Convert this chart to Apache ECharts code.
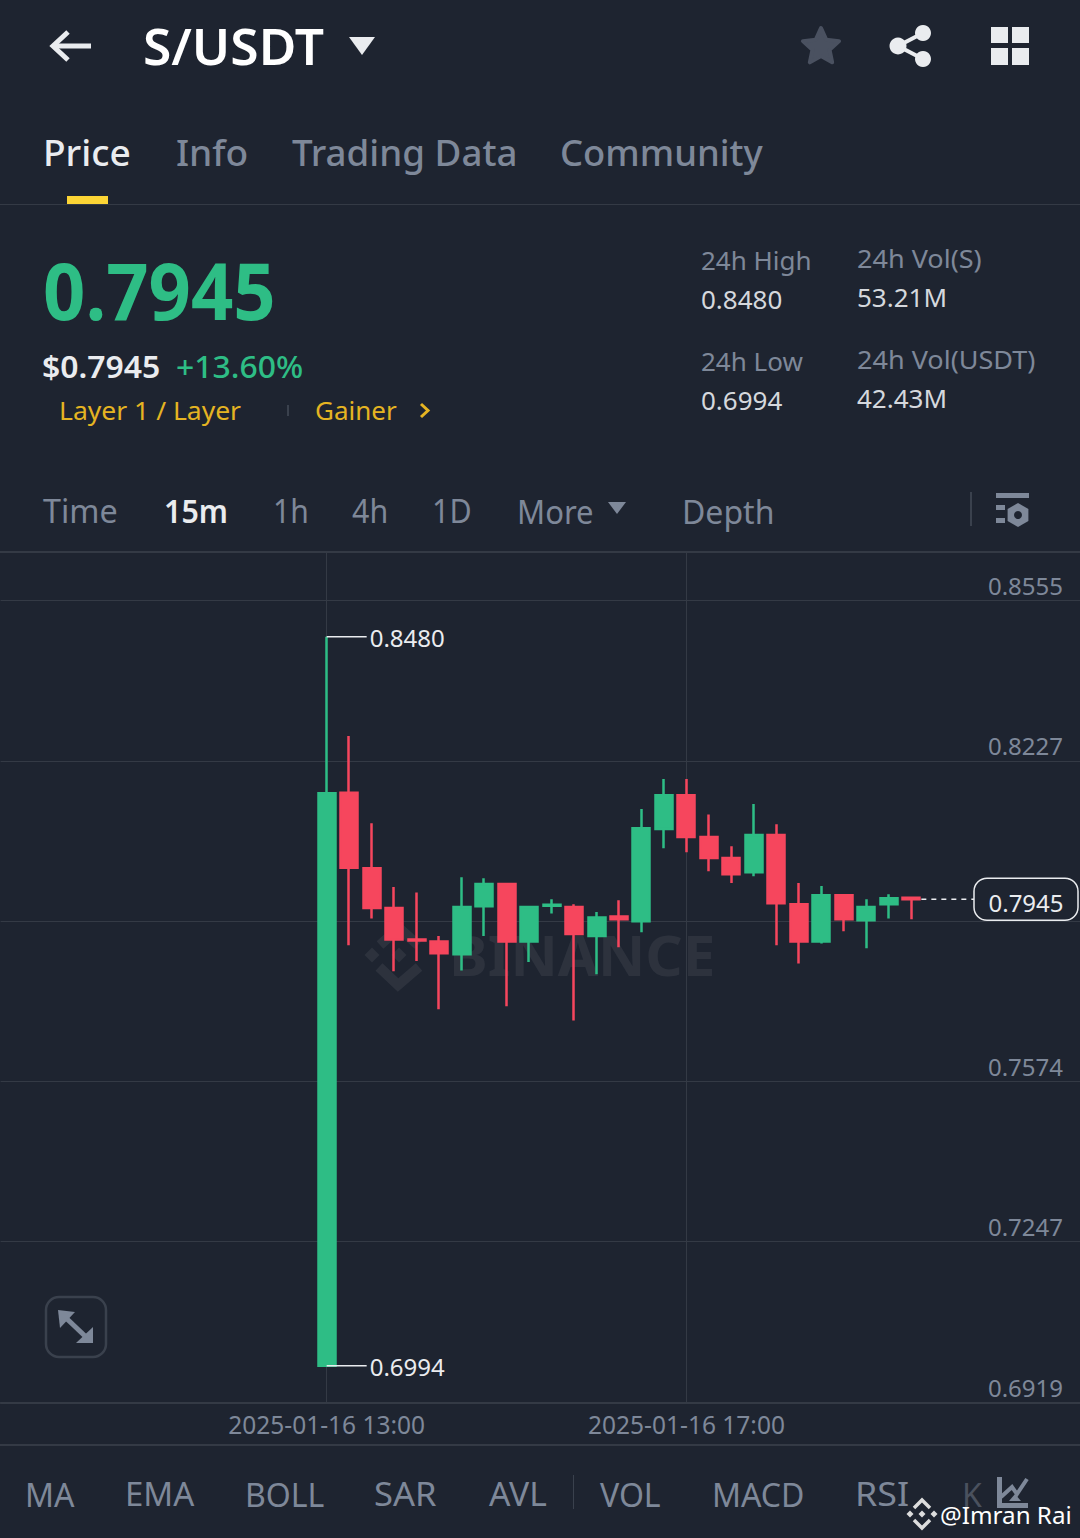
<!DOCTYPE html>
<html><head><meta charset="utf-8">
<style>html,body{margin:0;padding:0;background:#1e2430}#c{width:1080px;height:1538px}</style>
<script src="https://cdn.jsdelivr.net/npm/echarts@6/dist/echarts.min.js"></script>
</head><body><div id="c"></div>
<script>
const opens  = [0.6994,0.8162,0.8008,0.7927,0.7863,0.7859,0.7833,0.7931,0.7976,0.7859,0.7932,0.7929,0.7870,0.7910,0.7900,0.8088,0.8157,0.8072,0.8029,0.8000,0.8076,0.7935,0.7859,0.7953,0.7902,0.7935,0.7948];
const closes = [0.8161,0.8009,0.7927,0.7863,0.7861,0.7835,0.7929,0.7976,0.7859,0.7929,0.7934,0.7874,0.7908,0.7904,0.8090,0.8157,0.8072,0.8029,0.7996,0.8076,0.7937,0.7859,0.7953,0.7904,0.7929,0.7947,0.7945];
const lows   = [0.6994,0.7851,0.7906,0.7798,0.7819,0.7721,0.7800,0.7870,0.7727,0.7817,0.7916,0.7698,0.7792,0.7847,0.7878,0.8049,0.8041,0.8002,0.7978,0.7992,0.7851,0.7814,0.7855,0.7880,0.7845,0.7906,0.7904];
const highs  = [0.8480,0.8278,0.8100,0.7970,0.7959,0.7870,0.7990,0.7988,0.7977,0.7930,0.7945,0.7935,0.7919,0.7943,0.8129,0.8190,0.8190,0.8118,0.8053,0.8139,0.8098,0.7978,0.7972,0.7955,0.7945,0.7955,0.7948];
const firstCandleSlot = 14;
const slotCount = 48;
const yTicks = [0.6919,0.7247,0.7574,0.7900,0.8227,0.8555];
const yLabels = [0.6919,0.7247,0.7574,0.8227,0.8555];
const xTickLabels = ['2025-01-16 13:00','2025-01-16 17:00'];
const extremes = [[14,0.8480],[14,0.6994]];
const lastPrice = [[40,0.7945]];

const BG='#1e2430', GREEN='#2ebd85', RED='#f6465d', GRAY='#7e8899', WHITE='#eaecef', LINE='#343a45', YEL='#e5b422';
const pad=n=>String(n).padStart(2,'0');
const categories=[];
for(let i=0;i<slotCount;i++){const m=9*60+30+i*15;categories.push('2025-01-16 '+pad(Math.floor(m/60))+':'+pad(m%60));}
const candleData=categories.map((_,i)=>{const k=i-firstCandleSlot;return k>=0&&k<opens.length?[opens[k],closes[k],lows[k],highs[k]]:'-';});

const FONT='"Noto Sans"';
// [text, x, y, size, color, weight, scaleX]
const texts=[
 ['S/USDT',144,47,50,'#ffffff',600,1.03],
 ['Price',44,153,36,WHITE,500,1.03],['Info',177,153,36,GRAY,500,1.03],['Trading Data',293,153,36,GRAY,500,1.02],['Community',561,153,36,GRAY,500,1.01],
 ['0.7945',44,291,78,GREEN,700,0.95],
 ['$0.7945',43,367,31,WHITE,600,1.03],['+13.60%',177,367,31,GREEN,500,1.03],
 ['Layer 1 / Layer',60,411,26,YEL,400,1.02],['Gainer',316,411,26,YEL,400,1],
 ['24h High',702,261,26,GRAY,400,1],['0.8480',702,300,26,'#d5d8dd',400,1],['24h Low',702,362,26,GRAY,400,1],['0.6994',702,401,26,'#d5d8dd',400,1],
 ['24h Vol(S)',858,259,26,GRAY,400,1.04],['53.21M',858,298,26,'#d5d8dd',400,1],['24h Vol(USDT)',858,360,26,GRAY,400,1.04],['42.43M',858,399,26,'#d5d8dd',400,1],
 ['Time',44,512,32,GRAY,400,1.01],['15m',165,512,32,WHITE,600,0.95],['1h',274,512,32,GRAY,400,0.94],['4h',353,512,32,GRAY,400,0.95],['1D',433,512,32,GRAY,400,0.95],['More',518,512,32,GRAY,400,0.97],['Depth',683,512,32,GRAY,400,1],
 ['MA',26,1495,32,GRAY,400,1],['EMA',126,1495,32,GRAY,400,1.03],['BOLL',246,1495,32,GRAY,400,1],['SAR',375,1495,32,GRAY,400,1.08],['AVL',490,1495,32,GRAY,400,1.05],['VOL',601,1495,32,GRAY,400,1],['MACD',713,1495,32,GRAY,400,1],['RSI',856,1495,32,GRAY,400,1.12],['K',963,1495,32,'#4a515e',400,1],
 ['@Imran Rai',941,1515,24.2,'#ffffff',400,1],
];
const textEls=texts.map(([t,x,y,s,c,w,sx])=>({type:'text',x:x-1,y:y-1,scaleX:sx,z:5,silent:true,style:{text:t,fontSize:s,fontWeight:w,fontFamily:FONT,fill:c,textVerticalAlign:'middle'}}));

const rect=(x,y,w,h,c,r)=>({type:'rect',z:5,silent:true,shape:{x,y,width:w,height:h,r:r||0},style:{fill:c}});
const poly=(pts,c,z)=>({type:'polygon',z:z==null?5:z,silent:true,shape:{points:pts},style:{fill:c}});
const pl=(pts,c,w,z)=>({type:'polyline',z:z==null?5:z,silent:true,shape:{points:pts},style:{stroke:c,lineWidth:w,fill:null,lineJoin:'miter'}});
const circ=(x,y,r,c)=>({type:'circle',z:5,silent:true,shape:{cx:x,cy:y,r},style:{fill:c}});
const dia=(x,y,r,c,z)=>poly([[x-r,y],[x,y-r],[x+r,y],[x,y+r]],c,z);
const WM='rgba(255,255,255,0.065)';
const star=[];for(let i=0;i<10;i++){const a=-Math.PI/2+i*Math.PI/5,r=i%2?9:19;star.push([821+r*Math.cos(a),47+r*Math.sin(a)]);}
const hex=[];for(let i=0;i<6;i++){const a=-Math.PI/2+i*Math.PI/3;hex.push([1018+12*Math.cos(a),515+12*Math.sin(a)]);}
const icons=[
 pl([[91,46],[54,46]],WHITE,5),pl([[68,32],[53,46],[68,60]],WHITE,5),
 poly([[349,37],[375,37],[362,55]],WHITE),
 {type:'polygon',z:5,silent:true,shape:{points:star},style:{fill:'#4a5160',stroke:'#4a5160',lineWidth:4,lineJoin:'round'}},
 pl([[923,33],[898,46],[923,59]],WHITE,4),circ(923,33,8,WHITE),circ(923,59,8,WHITE),circ(898,46,8.5,WHITE),
 rect(991,27,17,16,WHITE),rect(1012,27,17,16,WHITE),rect(991,48,17,17,WHITE),rect(1012,48,17,17,WHITE),
 rect(67,196,41,8,'#fcd535'),
 rect(0,204,1080,1,LINE),
 rect(287,405,2,11,'#3a414d'),
 pl([[421,404],[428,410.5],[421,417]],YEL,3),
 poly([[608,502],[626,502],[617,514]],GRAY),
 rect(970,492,2,34,'#3a414d'),
 rect(996,493,33,5,GRAY),rect(996,505,9,5,GRAY),rect(996,518,9,5,GRAY),
 poly(hex,GRAY),circ(1018,515,4,BG),
 rect(0,551,1080,2,LINE),rect(0,1444,1080,2,LINE),
 {type:'rect',z:5,silent:true,shape:{x:46,y:1297,width:60,height:60,r:13},style:{fill:BG,stroke:'#3a414d',lineWidth:2.5}},
 pl([[66,1318],[85,1336]],GRAY,5),poly([[58,1310],[75,1312],[60,1328]],GRAY),poly([[93,1343],[76,1343],[93,1327]],GRAY),
 rect(573,1475,1,34,'#3a414d'),
 rect(997,1477,5,31,GRAY),rect(997,1503,31,5,GRAY),pl([[1001,1497],[1012,1487],[1017,1494],[1027,1479]],GRAY,4),poly([[1009,1501],[1021,1501],[1015,1494]],GRAY),
 dia(910,1514,3.5,'#dddddd'),dia(934,1514,3.5,'#dddddd'),dia(922,1514,3.5,'#dddddd'),
 pl([[914,1508],[922,1500],[930,1508]],'#dddddd',3.5),pl([[914,1520],[922,1528],[930,1520]],'#dddddd',3.5),
 // faint exchange mark behind the candles
 dia(372,955,7.5,WM,0),pl([[380,945],[399,928],[418,945]],WM,10,0),pl([[379,967],[398,985],[419,967]],WM,10,0),dia(399,955,7.5,WM,0),
 {type:'text',x:449,y:954,z:0,silent:true,scaleX:1.04,style:{text:'BINANCE',fontSize:56,fontWeight:700,fontFamily:FONT,fill:WM,textVerticalAlign:'middle'}},
];

const chart=echarts.init(document.getElementById('c'),null,{renderer:'svg',width:1080,height:1538});
chart.setOption({
 animation:false,backgroundColor:BG,
 textStyle:{fontFamily:FONT},
 graphic:{elements:[...icons,...textEls]},
 grid:{left:0.6,width:1081,top:552,bottom:135.5,containLabel:false},
 xAxis:{type:'category',data:categories,boundaryGap:true,
  axisLine:{show:true,lineStyle:{color:LINE,width:2}},axisTick:{show:false},
  axisLabel:{interval:(i,v)=>xTickLabels.includes(v),color:GRAY,fontSize:24.5,margin:9,fontFamily:FONT},
  splitLine:{show:true,interval:(i,v)=>xTickLabels.includes(v),alignWithLabel:true,lineStyle:{color:LINE,width:1}}},
 yAxis:{type:'value',position:'right',min:0.6919,max:0.8653,
  axisLine:{show:false},axisTick:{show:false,customValues:yTicks},
  axisLabel:{inside:true,customValues:yLabels,margin:17,padding:[0,0,3,0],verticalAlign:'bottom',align:'right',color:GRAY,fontSize:24,fontFamily:FONT,formatter:v=>v.toFixed(4)},
  splitLine:{show:true,lineStyle:{color:LINE,width:1}}},
 series:[
  {type:'candlestick',data:candleData,barWidth:17.5,silent:true,z:3,
   itemStyle:{color:GREEN,color0:RED,borderColor:GREEN,borderColor0:RED,borderWidth:2.5}},
  {type:'custom',data:extremes,silent:true,clip:false,z:4,encode:{x:0,y:1},
   renderItem:(p,api)=>{const c=api.coord([api.value(0),api.value(1)]);return {type:'group',children:[
     {type:'line',shape:{x1:c[0],y1:c[1],x2:c[0]+40,y2:c[1]},style:{stroke:WHITE,lineWidth:1.5}},
     {type:'text',x:c[0]+43,y:c[1]+1,style:{text:api.value(1).toFixed(4),fontSize:24,fontFamily:FONT,fill:WHITE,textVerticalAlign:'middle'}}]};}},
  {type:'custom',data:lastPrice,silent:true,clip:false,z:4,encode:{x:0,y:1},
   renderItem:(p,api)=>{const c=api.coord([api.value(0),api.value(1)]);return {type:'group',children:[
     {type:'line',shape:{x1:c[0]+10,y1:c[1],x2:974,y2:c[1]},style:{stroke:WHITE,lineWidth:1.5,lineDash:[5,5]}},
     {type:'rect',shape:{x:974,y:c[1]-21,width:104,height:42,r:13},style:{fill:BG,stroke:WHITE,lineWidth:1.5}},
     {type:'text',x:1026,y:c[1]+3,style:{text:api.value(1).toFixed(4),fontSize:24,fontFamily:FONT,fill:WHITE,textAlign:'center',textVerticalAlign:'middle'}}]};}},
 ]
});
</script></body></html>
